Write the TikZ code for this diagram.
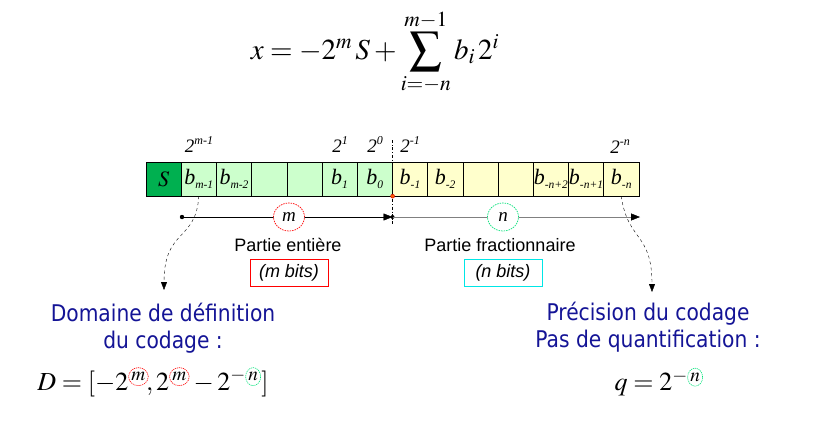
\documentclass[tikz,border=0pt]{standalone}
\usepackage{mathptmx}
\usepackage{fontspec}
\setmainfont{Liberation Serif}
\setsansfont{Liberation Sans}
\newfontfamily\bluefont{DejaVu Sans}[FakeStretch=0.88]
\usetikzlibrary{shapes.geometric, arrows.meta, positioning, calc}
\definecolor{signgreen}{RGB}{0, 176, 80}
\definecolor{intgreen}{RGB}{204, 255, 204}
\definecolor{fracyellow}{RGB}{255, 255, 204}
\definecolor{navy1}{RGB}{20, 20, 150}
\definecolor{circgreen}{RGB}{0, 225, 120}
\definecolor{boxcyan}{RGB}{0, 230, 230}

\newcommand{\bi}[1]{\textit{b}\raisebox{-0.45ex}{\fontsize{11.5}{11.5}\selectfont\itshape #1}}
\newcommand{\pw}[1]{\textit{2}\raisebox{0.85ex}{\fontsize{12}{12}\selectfont\itshape #1}}
\newcommand{\circsup}[2]{\tikz[baseline=(s.base)]\node[ellipse, draw=#2, dash pattern=on 1.2pt off 0.8pt, line width=0.6pt, inner sep=0pt, minimum width=15pt, minimum height=18pt] (s) {$\scriptstyle #1$};}
\newcommand{\midsum}{\mathop{\vcenter{\hbox{\scalebox{1.1}{$\displaystyle\sum$}}}}\limits}

\begin{document}
\begin{tikzpicture}[x=1pt, y=-1pt,
  cell/.style={draw, minimum width=35.2pt, minimum height=34pt, inner sep=0pt, font=\fontsize{22}{22}\selectfont},
  pow/.style={anchor=base, font=\fontsize{19}{19}\selectfont},
  lbl/.style={font=\sffamily\fontsize{18}{20}\selectfont},
  bitsbox/.style={draw, minimum width=78pt, minimum height=27pt, inner sep=0pt, font=\sffamily\itshape\fontsize{18}{20}\selectfont},
  bluetxt/.style={navy1, align=center, font=\bluefont\fontsize{23}{27}\selectfont},
  tag/.style={ellipse, dash pattern=on 1.5pt off 1pt, line width=0.7pt, fill=white, minimum width=31pt, minimum height=28pt, inner sep=0pt, font=\fontsize{19}{19}\selectfont\itshape}
]
  \useasboundingbox (0,0) rectangle (821,440);

  % Formula
  \node[font=\fontsize{29}{34}\selectfont] (fx) at (375,52) {$x = -2^m\, S + \midsum_{i=-n}^{m-1} b_i\, 2^i$};

  % Register
  \foreach \i/\txt/\col in {1/{$S$}/signgreen, 2/{\bi{m-1}}/intgreen, 3/{\bi{m-2}}/intgreen, 4/{}/intgreen,
      5/{}/intgreen, 6/{\bi{1}}/intgreen, 7/{\bi{0}}/intgreen, 8/{\bi{-1}}/fracyellow, 9/{\bi{-2}}/fracyellow,
      10/{}/fracyellow, 11/{}/fracyellow, 12/{\bi{-n+2}}/fracyellow, 13/{\bi{-n+1}}/fracyellow, 14/{\bi{-n}}/fracyellow}
    \node[cell, fill=\col] (c\i) at ({146+35.2*(\i-0.5)}, 179) {\txt};

  % Weights
  \node[pow] (w1) at (199,152) {\pw{m-1}};
  \node[pow] (w6) at (340,152) {\pw{1}};
  \node[pow] (w7) at (375,152) {\pw{0}};
  \node[pow] (w8) at (410,152) {\pw{-1}};
  \node[pow] (w14) at (620,153) {\pw{-n}};

  % Point
  \coordinate (septop) at (392.5,140);
  \coordinate (sepbot) at (392.5,224);
  \draw[dash dot] (septop) -- (sepbot);
  \node[circle, draw=red!80!black, fill=orange!70!red, inner sep=0pt, minimum size=4pt] (pt) at (c7.south east) {};

  % Axis
  \coordinate (ax0) at (182,217);
  \coordinate (axm) at (392.5,217);
  \coordinate (axn) at (640,217);
  \fill (ax0) circle (2.2pt);
  \draw[-{Triangle[length=9pt, width=7pt]}] (ax0) -- (axm);
  \fill (axm) circle (2pt);
  \draw[gray, -{Triangle[black, length=9pt, width=7pt]}] (axm) -- (axn);
  \node[tag, draw=red] (tm) at (289,217) {m};
  \node[tag, draw=circgreen] (tn) at (503,217) {n};

  % Parts
  \node[lbl] (pe) at (288,245) {Partie enti\`ere};
  \node[bitsbox, draw=red] (mb) at (289,272.5) {(m bits)};
  \node[lbl] (pf) at (500,245) {Partie fractionnaire};
  \node[bitsbox, draw=boxcyan, thick] (nb) at (503,272.5) {(n bits)};

  \draw[dashed, -{Triangle[length=8pt, width=6pt]}] (c2.south) .. controls (196,242) and (164,228) .. (164,290);
  \draw[dashed, -{Triangle[length=8pt, width=6pt]}] (c14.south) .. controls (628,242) and (652,232) .. (652,292);

  % Domain and step
  \node[bluetxt] (dom) at (163,328.5) {Domaine de d\'efinition\\du codage :};
  \node[bluetxt] (prec) at (648,327.5) {Pr\'ecision du codage\\Pas de quantification :};
  \node[font=\fontsize{26}{30}\selectfont] (fd) at (153,382) {$D = [-2^{\circsup{m}{red}}\!,2^{\circsup{m}{red}} - 2^{-\circsup{n}{circgreen}}]$};
  \node[font=\fontsize{26}{30}\selectfont] (fq) at (659,382) {$q = 2^{-\circsup{n}{circgreen}}$};
\end{tikzpicture}
\end{document}
